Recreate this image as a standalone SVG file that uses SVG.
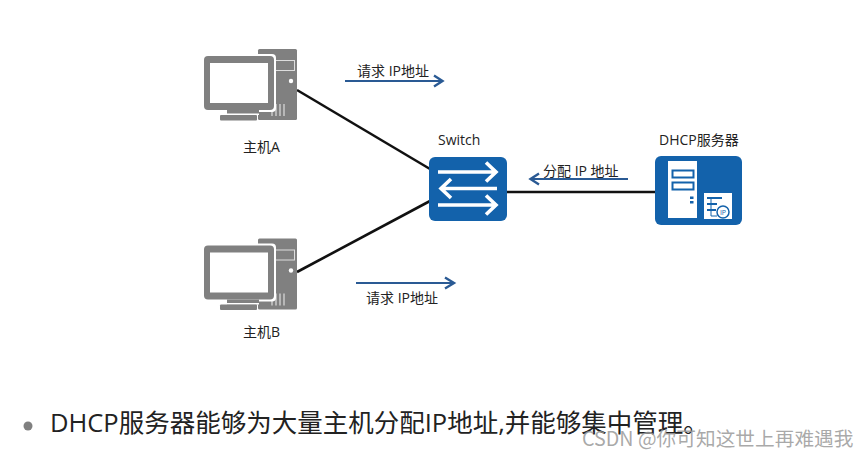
<svg xmlns="http://www.w3.org/2000/svg" xmlns:xlink="http://www.w3.org/1999/xlink" width="868" height="458" viewBox="0 0 868 458">
<style>
text{font-family:"Open Sans","Noto Sans CJK SC",sans-serif;fill:#222}
.lbl{font-size:14px}
.link{stroke:#111;stroke-width:2.6;fill:none}
.flow{stroke:#2a5a94;stroke-width:2.2;fill:none}
.head{stroke:#2a5a94;stroke-width:2.4;fill:none}
.g{fill:#808080}
.w{fill:#fff}
.sw{stroke:#fff;stroke-width:3.600;fill:none}
.b{fill:#1362ab}
</style>
<defs>
<g id="pc">
<rect class="g" x="258" y="49" width="39" height="71" rx="1.5"/>
<rect x="275.500" y="60.500" width="19" height="10" fill="none" stroke="#ddd" stroke-width="1"/>
<circle class="w" cx="291" cy="81" r="2.200"/>
<path d="M272 104v12M276 104v12M280 104v12M284 104v12" stroke="#ddd" stroke-width="1.200"/>
<rect x="202" y="54" width="74" height="58" rx="4" fill="#fff"/>
<rect class="g" x="204" y="56" width="70" height="54" rx="4"/>
<rect class="w" x="210" y="63" width="58" height="40"/>
<rect class="g" x="227" y="110" width="32" height="5"/>
<rect class="w" x="218" y="113.500" width="41" height="1.500"/>
<rect class="g" x="220" y="115" width="37" height="5.500" rx="1"/>
</g>
</defs>
<rect width="868" height="458" fill="#fff"/>
<g id="connectors">
<path class="link" d="M297 90L430 169"/>
<path class="link" d="M297 272L430 201"/>
<path class="link" d="M507 192H656"/>
<path class="flow" d="M345 81H442"/><path class="head" d="M434 75.500L442.500 81L434 86.500"/>
<path class="flow" d="M356 283H454"/><path class="head" d="M445 277.500L454 283L445 288.500"/>
<path class="flow" d="M628 179H531"/><path class="head" d="M539 173.500L530.500 179L539 184.500"/>
</g>
<g id="hostA"><use xlink:href="#pc" href="#pc"/><text class="lbl" x="243" y="152">主机A</text></g>
<g id="hostB"><use xlink:href="#pc" href="#pc" y="189.500"/><text class="lbl" x="243" y="337">主机B</text></g>
<g id="switch">
<rect class="b" x="429" y="157" width="78" height="64" rx="6"/>
<path class="sw" d="M438 172H494M486 162.500L496 172L486 181.500"/>
<path class="sw" d="M497 188.500H442M451 179L441 188.500L451 198"/>
<path class="sw" d="M438 205H494M486 195.500L496 205L486 214.500"/>
<text class="lbl" x="438" y="145">Switch</text>
</g>
<g id="server">
<rect class="b" x="655" y="156" width="87" height="69" rx="6"/>
<rect class="w" x="668" y="161" width="29" height="57"/>
<rect x="672.500" y="170.500" width="21" height="7" fill="none" stroke="#1362ab" stroke-width="2"/>
<rect x="672.500" y="182.500" width="21" height="7" fill="none" stroke="#1362ab" stroke-width="2"/>
<rect class="b" x="690" y="196.500" width="3.500" height="2.500"/>
<rect class="b" x="690" y="201" width="3.500" height="2.500"/>
<rect class="w" x="704" y="193" width="28" height="26"/>
<path d="M707 198H722M707 204H717M707 210H716" stroke="#1362ab" stroke-width="1.800"/>
<path d="M711 197V216H717" fill="none" stroke="#1362ab" stroke-width="1"/>
<circle cx="723" cy="212" r="6" fill="#fff" stroke="#1362ab" stroke-width="1.500"/>
<text x="723" y="214.500" text-anchor="middle" style="font-size:7px;fill:#1362ab">IP</text>
<text class="lbl" x="659" y="145">DHCP服务器</text>
</g>
<g id="labels">
<text class="lbl" x="357" y="76">请求 IP地址</text>
<text class="lbl" x="366" y="303">请求 IP地址</text>
<text class="lbl" x="543" y="176">分配 IP 地址</text>
</g>
<g id="note">
<circle cx="28" cy="426" r="4.500" fill="#808080"/>
<text x="50" y="432" style="font-size:25.500px;fill:#222">DHCP服务器能够为大量主机分配IP地址,并能够集中管理。</text>
</g>
<g id="watermark">
<text x="582" y="446" style="font-size:19.700px;font-family:'Noto Sans CJK SC',sans-serif;fill:#9a9a9a;fill-opacity:.85">CSDN @你可知这世上再难遇我</text>
</g>
</svg>
